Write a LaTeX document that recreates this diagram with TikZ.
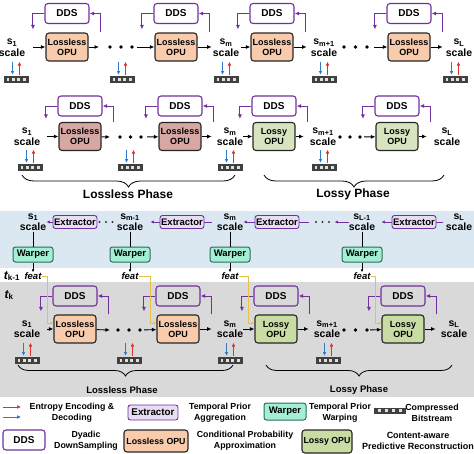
\documentclass[tikz,border=0pt]{standalone}
\usepackage{fontspec}
\setmainfont{Liberation Sans}
\usetikzlibrary{arrows.meta,decorations.pathreplacing}
\definecolor{purp}{HTML}{7030A0}
\definecolor{peach}{HTML}{F8CBAD}
\definecolor{rose}{HTML}{D6A7A3}
\definecolor{lossyA}{HTML}{D8E4C0}
\definecolor{lossyB}{HTML}{C8DCA4}
\definecolor{lav}{HTML}{E8DDF3}
\definecolor{mint}{HTML}{A3EFD4}
\definecolor{mintdk}{HTML}{2D6B58}
\definecolor{bluebg}{HTML}{DCE8F1}
\definecolor{graybg}{HTML}{D9D9D9}
\definecolor{yel}{HTML}{E6C24A}
\definecolor{bluearr}{HTML}{2F7BC4}
\definecolor{redarr}{HTML}{E0302A}

\newcommand{\opuunit}[6]{%
  \node[#5] (#1) at (#2,#3) {#6};
  \node[dds] (#1d) at (#2,#4) {DDS};
  \draw[fb] ([xshift=12pt]#1.north east) |- (#1d.east);
  \draw[fb] (#1d.west) -| ([xshift=-12.5pt,yshift=3pt]#1.north west);
}
\newcommand{\bitsat}[3]{%
  \node[bits] (#1) at (#2,#3) {};
  \draw[barr,color=bluearr] ([xshift=-3.5pt,yshift=14.5pt]#1.north) -- ([xshift=-3.5pt,yshift=1.5pt]#1.north);
  \draw[barr,color=redarr] ([xshift=3.5pt,yshift=1.5pt]#1.north) -- ([xshift=3.5pt,yshift=14.5pt]#1.north);
}

\begin{document}
\begin{tikzpicture}[x=1pt, y=-1pt,
 base/.style={inner sep=0pt, align=center, font=\bfseries\fontsize{9}{10}\selectfont},
 lbl/.style={base, font=\bfseries\fontsize{10.5}{11.5}\selectfont},
 opu/.style={base, draw=black!85, line width=1.1pt, rounded corners=3pt, minimum width=42pt, minimum height=28pt},
 opuA/.style={opu, fill=peach},
 opuB/.style={opu, fill=rose},
 opuC/.style={opu, fill=lossyA},
 opuD/.style={opu, fill=lossyB},
 dds/.style={base, font=\bfseries\fontsize{10}{10}\selectfont, draw=purp, line width=1.1pt, rounded corners=3pt, minimum width=44pt, minimum height=20pt},
 ext/.style={base, font=\bfseries\fontsize{9.5}{10}\selectfont, draw=purp, fill=lav, line width=0.9pt, rounded corners=2.5pt, minimum width=44pt, minimum height=13pt},
 warp/.style={base, font=\bfseries\fontsize{9.5}{10}\selectfont, draw=mintdk, fill=mint, line width=1pt, rounded corners=2.5pt, minimum width=40pt, minimum height=15pt},
 featl/.style={base, font=\bfseries\itshape\fontsize{9.5}{10}\selectfont},
 tkl/.style={base, font=\bfseries\fontsize{12}{12}\selectfont},
 phaseA/.style={base, font=\bfseries\fontsize{12}{12}\selectfont},
 phaseB/.style={base, font=\bfseries\fontsize{9.5}{10}\selectfont},
 legt/.style={base, font=\bfseries\fontsize{8.8}{11}\selectfont},
 dot/.style={circle, fill=black, inner sep=0pt, minimum size=3.8pt},
 sdot/.style={circle, fill=black!80, inner sep=0pt, minimum size=2.4pt},
 arr/.style={line width=0.9pt, -{Latex[length=4.5pt,width=4pt]}},
 fb/.style={draw=purp, line width=1pt, -{Latex[length=4.5pt,width=4pt]}},
 parr/.style={draw=purp, line width=0.8pt, -{Latex[length=3.5pt,width=3.2pt]}},
 pline/.style={draw=purp, line width=0.8pt},
 sarr/.style={line width=0.7pt, -{Latex[length=3pt,width=2.8pt]}},
 yarr/.style={draw=yel, line width=0.8pt, -{Latex[length=3pt,width=3pt]}},
 barr/.style={line width=1pt, -{Latex[length=3.8pt,width=3.8pt]}},
 brc/.style={decorate, decoration={brace, mirror, amplitude=11pt}, line width=0.8pt},
 bits/.style={draw=black!75, fill=black!75, line width=0.4pt, inner sep=0pt, minimum width=24pt, minimum height=6pt,
   path picture={\foreach \k in {0,1,2,3}{\fill[white!88!black] ([xshift={2.5pt+\k*5.45pt}, yshift=-1.2pt]path picture bounding box.north west) rectangle ++(2.7pt,-3.6pt);}}},
 bitsL/.style={draw=black!75, fill=black!75, line width=0.4pt, inner sep=0pt, minimum width=31pt, minimum height=5pt,
   path picture={\foreach \k in {0,1,2,3}{\fill[white!88!black] ([xshift={3.2pt+\k*7pt}, yshift=-1pt]path picture bounding box.north west) rectangle ++(3.5pt,-3pt);}}}
]
\useasboundingbox (0,0) rectangle (474,453);
\fill[bluebg] (0,211) rectangle (474,268);
\fill[graybg] (0,282) rectangle (474,397);

% ---------- Row 1 ----------
\node[lbl] (a0) at (12,47.5) {s\textsubscript{1}\\scale};
\opuunit{a1}{67}{47}{13.5}{opuA}{Lossless\\OPU}
\node[dot] (ad1) at (110,47) {};
\node[dot] (ad2) at (121,47) {};
\node[dot] (ad3) at (132,47) {};
\opuunit{a2}{176}{47}{13.5}{opuA}{Lossless\\OPU}
\node[lbl] (am) at (226,47.5) {s\textsubscript{m}\\scale};
\opuunit{a3}{272}{47}{13.5}{opuA}{Lossless\\OPU}
\node[lbl] (am1) at (324,47.5) {s\textsubscript{m+1}\\scale};
\node[dot] (ae1) at (344,47) {};
\node[dot] (ae2) at (355.5,47) {};
\node[dot] (ae3) at (367,47) {};
\opuunit{a4}{409}{47}{13.5}{opuA}{Lossless\\OPU}
\node[lbl] (aL) at (459,47.5) {s\textsubscript{L}\\scale};
\draw[arr, shorten <=8pt] (a0.east |- a1) -- (a1);
\draw[arr] (a1) -- ([xshift=-11pt]ad1.center);
\draw[arr, shorten <=3pt] (ad3) -- (a2);
\draw[arr, shorten >=1pt] (a2) -- (am.west |- a2);
\draw[arr, shorten <=2pt] (am.east |- a3) -- (a3);
\draw[arr, shorten >=4pt] (a3) -- (am1.west |- a3);
\draw[arr, shorten <=5pt] (ae3) -- (a4);
\draw[arr, shorten >=3pt] (a4) -- (aL.west |- a4);
\bitsat{ab1}{16}{79.5}
\bitsat{ab2}{122}{79.5}
\bitsat{ab3}{226}{79.5}
\bitsat{ab4}{324}{79.5}
\bitsat{ab5}{455}{79.5}

% ---------- Row 2 ----------
\node[lbl] (b0) at (27,136.5) {s\textsubscript{1}\\scale};
\opuunit{b1}{80}{136.5}{106}{opuB}{Lossless\\OPU}
\node[dot] (bd1) at (120,137) {};
\node[dot] (bd2) at (130.5,137) {};
\node[dot] (bd3) at (141,137) {};
\opuunit{b2}{180}{136.5}{106}{opuB}{Lossless\\OPU}
\node[lbl] (bm) at (230,136.5) {s\textsubscript{m}\\scale};
\opuunit{b3}{274}{136.5}{106}{opuC}{Lossy\\OPU}
\node[lbl] (bm1) at (323,136.5) {s\textsubscript{m+1}\\scale};
\node[dot] (be1) at (340,137) {};
\node[dot] (be2) at (350,137) {};
\node[dot] (be3) at (360,137) {};
\opuunit{b4}{397}{136.5}{106}{opuC}{Lossy\\OPU}
\node[lbl] (bL) at (447,136.5) {s\textsubscript{L}\\scale};
\draw[arr, shorten <=7pt] (b0.east |- b1) -- (b1);
\draw[arr] (b1) -- ([xshift=-10pt]bd1.center);
\draw[arr, shorten <=4pt] (bd3) -- (b2);
\draw[arr, shorten >=5pt] (b2) -- (bm.west |- b2);
\draw[arr] (bm.east |- b3) -- (b3);
\draw[arr, shorten >=6pt] (b3) -- (bm1.west |- b3);
\draw[arr, shorten <=2pt] (be3) -- (b4);
\draw[arr, shorten >=7pt] (b4) -- (bL.west |- b4);
\bitsat{bb1}{30}{167.5}
\bitsat{bb2}{130}{167.5}
\bitsat{bb3}{230}{167.5}
\bitsat{bb4}{324}{167.5}
\coordinate (bl1) at (22,175);
\coordinate (bl2) at (235,175);
\coordinate (by1) at (264,175);
\coordinate (by2) at (444,175);
\draw[brc, decoration={amplitude=12pt}] (bl1) -- (bl2);
\draw[brc, decoration={amplitude=12pt}] (by1) -- (by2);
\node[phaseA] (bLP) at (128,194) {Lossless Phase};
\node[phaseA] (bYP) at (353,194) {Lossy Phase};

% ---------- Row 3 ----------
\node[lbl] (c0) at (33,222) {s\textsubscript{1}\\scale};
\node[ext] (ce1) at (75,222) {Extractor};
\node[sdot] (cd1) at (99.5,222) {};
\node[sdot] (cd2) at (106,222) {};
\node[sdot] (cd3) at (112.5,222) {};
\node[lbl] (cm1) at (130,222) {s\textsubscript{m-1}\\scale};
\node[ext] (ce2) at (182,222) {Extractor};
\node[lbl] (cm) at (230,222) {s\textsubscript{m}\\scale};
\node[ext] (ce3) at (277,222) {Extractor};
\node[sdot] (cdd1) at (316,222) {};
\node[sdot] (cdd2) at (322.5,222) {};
\node[sdot] (cdd3) at (329,222) {};
\node[lbl] (cL1) at (362,222) {s\textsubscript{L-1}\\scale};
\node[ext] (ce4) at (414,222) {Extractor};
\node[lbl] (cL) at (459,222) {s\textsubscript{L}\\scale};
\draw[parr] (ce1) -- (c0.east |- ce1);
\draw[parr, shorten >=7pt] (ce2) -- (cm1.east |- ce2);
\draw[pline, shorten >=5pt] (ce2) -- (cm.west |- ce2);
\draw[parr] (ce3) -- (cm.east |- ce3);
\draw[pline, shorten >=6pt] (ce3) -- (cdd1);
\draw[parr, shorten >=4pt] (cL1.west |- cdd3) -- (cdd3);
\draw[parr, shorten >=6pt] (ce4) -- (cL1.east |- ce4);
\draw[pline, shorten >=3pt] (ce4) -- (cL.west |- ce4);
\node[warp] (cw1) at (33,254.5) {Warper};
\node[warp] (cw2) at (130,254.5) {Warper};
\node[warp] (cw3) at (230,254.5) {Warper};
\node[warp] (cw4) at (362,254.5) {Warper};
\node[featl] (cf1) at (33,276) {feat};
\node[featl] (cf2) at (130,276) {feat};
\node[featl] (cf3) at (230,276) {feat};
\node[featl] (cf4) at (362,276) {feat};
\foreach \i/\s in {1/c0,2/cm1,3/cm,4/cL1}{
  \draw[line width=0.7pt, shorten <=1pt] (\s) -- (cw\i);
  \draw[sarr] (cw\i) -- (cf\i);
}
\node[tkl] (tkm) at (12,276) {\itshape t\upshape\textsubscript{k-1}};

% ---------- Row 4 ----------
\node[tkl] (tk) at (9,295) {\itshape t\upshape\textsubscript{k}};
\node[lbl] (d0) at (27,329) {s\textsubscript{1}\\scale};
\opuunit{d1}{75}{329}{296}{opuA}{Lossless\\OPU}
\node[dot] (dd1) at (118,330) {};
\node[dot] (dd2) at (129,330) {};
\node[dot] (dd3) at (140,330) {};
\opuunit{d2}{178}{329}{296}{opuA}{Lossless\\OPU}
\node[lbl] (dm) at (230,329) {s\textsubscript{m}\\scale};
\opuunit{d3}{276}{329}{296}{opuD}{Lossy\\OPU}
\node[lbl] (dm1) at (327,329) {s\textsubscript{m+1}\\scale};
\node[dot] (de1) at (344,330) {};
\node[dot] (de2) at (355.5,330) {};
\node[dot] (de3) at (367,330) {};
\opuunit{d4}{403}{329}{296}{opuD}{Lossy\\OPU}
\node[lbl] (dL) at (454,329) {s\textsubscript{L}\\scale};
\draw[arr, shorten <=7pt] (d0.east |- d1) -- (d1);
\draw[arr] (d1) -- ([xshift=-8pt]dd1.center);
\draw[arr, shorten <=2pt] (dd3) -- (d2);
\draw[arr, shorten >=5pt] (d2) -- (dm.west |- d2);
\draw[arr] (dm.east |- d3) -- (d3);
\draw[arr, shorten >=5pt] (d3) -- (dm1.west |- d3);
\draw[arr, shorten <=1pt] (de3) -- (d4);
\draw[arr, shorten >=5pt] (d4) -- (dL.west |- d4);
\bitsat{db1}{27}{360.5}
\bitsat{db2}{129}{360.5}
\bitsat{db3}{230}{360.5}
\bitsat{db4}{328}{360.5}
\foreach \i in {1,2,3,4}{
  \draw[yarr] (cf\i.east) -| ([xshift=-6pt,yshift=6pt]d\i.west) -- ([yshift=6pt]d\i.west);
}
\coordinate (dl1) at (18,365);
\coordinate (dl2) at (233,365);
\coordinate (dy1) at (266,365);
\coordinate (dy2) at (452,365);
\draw[brc] (dl1) -- (dl2);
\draw[brc] (dy1) -- (dy2);
\node[phaseB] (dLP) at (122,390) {Lossless Phase};
\node[phaseB] (dYP) at (359,390) {Lossy Phase};

% ---------- Legend ----------
\coordinate (lr1) at (3,407);
\coordinate (lr2) at (21,407);
\coordinate (lb1) at (3,417);
\coordinate (lb2) at (21,417);
\draw[barr, line width=0.9pt, color=redarr] (lr1) -- (lr2);
\draw[barr, line width=0.9pt, color=bluearr] (lb1) -- (lb2);
\node[legt] (lt1) at (72,412.5) {Entropy Encoding \&\\Decoding};
\node[ext, minimum width=50pt, minimum height=15pt, font=\bfseries\fontsize{9.8}{10}\selectfont] (lx) at (153,412.5) {Extractor};
\node[legt] (lt2) at (220,412.5) {Temporal Prior\\Aggregation};
\node[warp, minimum width=42pt, minimum height=17pt] (lw) at (285,411.5) {Warper};
\node[legt] (lt3) at (340,412.5) {Temporal Prior\\Warping};
\node[bitsL] (lbits) at (390,410.5) {};
\node[legt] (lt4) at (432,412.5) {Compressed\\Bitstream};
\node[dds, minimum width=42pt, minimum height=20pt] (ldds) at (24,440) {DDS};
\node[legt] (lt5) at (86,441) {Dyadic\\DownSampling};
\node[opu, fill=peach, minimum width=64pt, minimum height=22pt, font=\bfseries\fontsize{8.8}{10}\selectfont] (llo) at (156,441) {Lossless OPU};
\node[legt] (lt6) at (245,441) {Conditional Probability\\Approximation};
\node[opu, fill=lossyB, minimum width=50pt, minimum height=23pt, font=\bfseries\fontsize{8.8}{10}\selectfont] (lly) at (327,441.5) {Lossy OPU};
\node[legt, font=\bfseries\fontsize{9}{11}\selectfont] (lt7) at (418,441) {Content-aware\\Predictive Reconstruction};
\end{tikzpicture}
\end{document}
